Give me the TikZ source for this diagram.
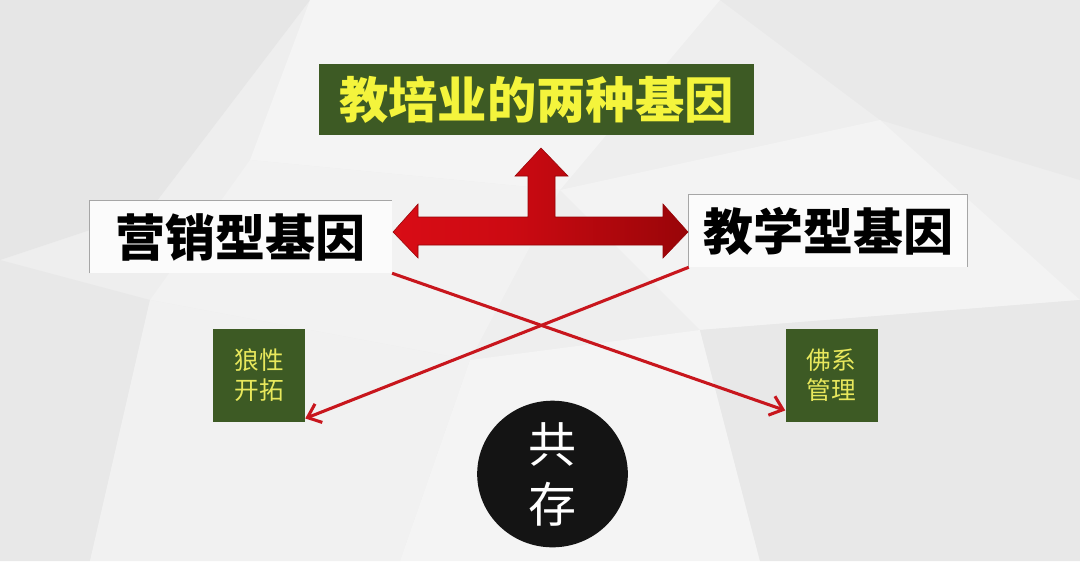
\documentclass[tikz,border=0pt]{standalone}
\usepackage{fontspec}
\newfontfamily\cjk{Noto Sans CJK SC}
\usetikzlibrary{arrows.meta,shapes.geometric}
\definecolor{boxgreen}{HTML}{3D5A24}
\definecolor{titleyellow}{HTML}{F4F43C}
\definecolor{smallyellow}{HTML}{E8E85C}
\definecolor{linered}{HTML}{C8161D}
\definecolor{rA}{HTML}{E8101A}
\definecolor{rB}{HTML}{CC0A12}
\definecolor{rC}{HTML}{6E0000}
\definecolor{bgbase}{HTML}{EEEEEE}
\definecolor{bgdark}{HTML}{E6E6E6}
\definecolor{bglight}{HTML}{F4F4F4}
\pgfdeclarehorizontalshading{redarrow}{100bp}{color(0bp)=(rA); color(45bp)=(rB); color(100bp)=(rC)}
\tikzset{
  titlebox/.style={fill=boxgreen, text=titleyellow, font=\cjk\bfseries\fontsize{37pt}{40pt}\selectfont, minimum width=326pt, minimum height=53pt, inner sep=0pt},
  genebox/.style={fill=white!97!gray, text=black, font=\cjk\bfseries\fontsize{37.5pt}{40pt}\selectfont, minimum height=54pt, inner sep=0pt},
  smallbox/.style={fill=boxgreen, text=smallyellow, font=\cjk\fontsize{18.5pt}{22.5pt}\selectfont, minimum width=69pt, minimum height=70pt, inner sep=0pt, align=center},
  coexist/.style={ellipse, fill=black!92, text=white, font=\cjk\fontsize{36pt}{45pt}\selectfont, minimum width=113pt, minimum height=96pt, inner sep=0pt, align=center},
  edgeline/.style={draw=gray!70, line width=0.6pt},
  crossarrow/.style={draw=linered, line width=2.3pt, -{Straight Barb[length=9pt,width=15pt,line width=2.3pt]}},
}
\begin{document}
\begin{tikzpicture}[x=0.75pt,y=-0.75pt]
\useasboundingbox (0,0) rectangle (1080,561);
% background
\fill[bgbase] (0,0) rectangle (1080,561);
\fill[bgdark] (0,0) -- (310,0) -- (150,210) -- (0,260) -- cycle;
\fill[bglight] (310,0) -- (720,0) -- (560,190) -- (250,160) -- cycle;
\fill[bgdark!60!bgbase] (720,0) -- (1080,0) -- (1080,180) -- (880,120) -- cycle;
\fill[bglight!70!bgbase] (250,160) -- (560,190) -- (470,360) -- (150,300) -- cycle;
\fill[bglight!80!bgbase] (560,190) -- (880,120) -- (1080,300) -- (700,330) -- cycle;
\fill[bgdark!80!bgbase] (0,260) -- (150,300) -- (90,561) -- (0,561) -- cycle;
\fill[bglight!60!bgbase] (150,300) -- (470,360) -- (400,561) -- (90,561) -- cycle;
\fill[bglight] (470,360) -- (700,330) -- (760,561) -- (400,561) -- cycle;
\fill[bgdark!70!bgbase] (700,330) -- (1080,300) -- (1080,561) -- (760,561) -- cycle;

% title
\node[titlebox] (title) at (536.5,99.5) {教培业的两种基因};

% gene boxes
\node[genebox, minimum width=227pt] (lb) at (240.5,237) {营销型基因};
\node[genebox, minimum width=208.5pt] (rb) at (828,231) {教学型基因};
\draw[edgeline] (lb.south west) -- (lb.north west) -- (lb.north east);
\draw[edgeline] (rb.south west) -- (rb.north west) -- (rb.north east) -- (rb.south east);

% big red T-arrow
\path[shading=redarrow, draw=rC!60!rB, line width=0.4pt]
  (393,232) -- (418,204) -- (418,217) -- (528,217) -- (528,176) -- (515,176)
  -- (541,148) -- (568,176) -- (555,176) -- (555,217) -- (663,217) -- (663,204)
  -- (688,232) -- (663,258) -- (663,245) -- (418,245) -- (418,258) -- cycle;

% small boxes
\node[smallbox] (wolf) at (259,375.5) {狼性\\开拓};
\node[smallbox] (zen) at (831.5,375.5) {佛系\\管理};

% coexist circle
\node[coexist] (co) at (552.5,474) {共\\存};

% cross arrows
\draw[crossarrow] (lb.south east) -- ([yshift=9pt]zen.south west);
\draw[crossarrow] (rb.south west) -- ([yshift=3pt]wolf.south east);
\end{tikzpicture}
\end{document}
